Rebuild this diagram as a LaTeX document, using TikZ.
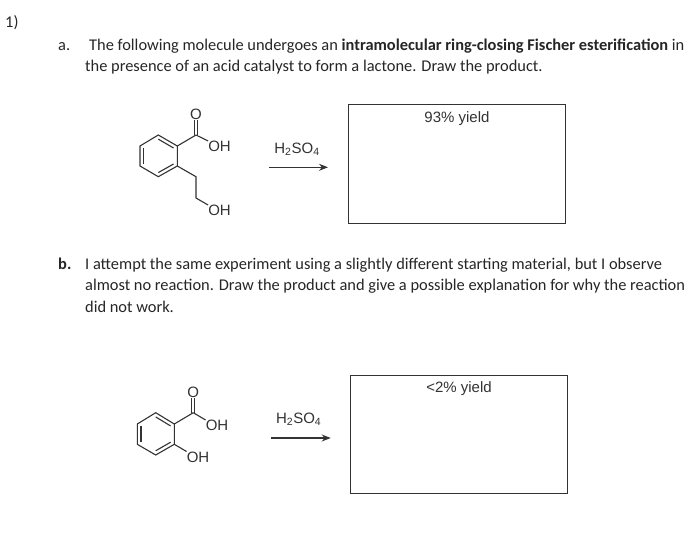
\documentclass[tikz,border=0pt]{standalone}
\usepackage{fontspec}
\setmainfont{Carlito}
\newfontfamily\chemfont{Liberation Sans}
\usetikzlibrary{calc,arrows.meta}
\definecolor{inktext}{HTML}{262626}
\definecolor{inkchem}{HTML}{333333}
\tikzset{
    prose/.style={anchor=base west, inner sep=0pt, text=inktext, font=\fontsize{16.4}{18}\selectfont},
    chem/.style={inner sep=0pt, text=inkchem, font=\chemfont\fontsize{15}{17}\selectfont},
    tag/.style={inner sep=0pt, text=inkchem, font=\chemfont\fontsize{15}{17}\selectfont},
    bond/.style={line width=1.1pt, inkchem},
    yieldbox/.style={draw=inkchem, line width=1pt, fill=white},
    rxnarrow/.style={line width=1.2pt, inkchem, -{Stealth[length=9pt,width=7pt]}},
}
\begin{document}
\begin{tikzpicture}[x=1pt,y=-1pt]
    \useasboundingbox[fill=white] (0,0) rectangle (700,540);

    \node[prose] (qnum) at (5,28) {1)};
    \node[prose] (amark) at (58,51) {a.};
    \node[prose] (aline1) at (89,51) {The following molecule undergoes an \textbf{intramolecular ring-closing Fischer esterification} in};
    \node[prose] (aline2) at (85,72) {the presence of an acid catalyst to form a lactone. Draw the product.};
    \node[prose] (bmark) at (58,269) {\textbf{b.}};
    \node[prose] (bline1) at (85,269) {I attempt the same experiment using a slightly different starting material, but I observe};
    \node[prose] (bline2) at (85,290) {almost no reaction. Draw the product and give a possible explanation for why the reaction};
    \node[prose] (bline3) at (85,312) {did not work.};

    % first molecule
    \coordinate (a1) at (158.3,135);
    \coordinate (a2) at (177.3,146);
    \coordinate (a3) at (177.3,166);
    \coordinate (a4) at (158.3,176.7);
    \coordinate (a5) at (140,166);
    \coordinate (a6) at (140,146);
    \coordinate (amid) at (158.6,156);
    \coordinate (acarb) at (196,135);
    \coordinate (achain1) at (196,176.7);
    \coordinate (achain2) at (196,198);
    \node[chem] (aoxo) at (196,114.3) {O};
    \node[chem] (aoh1) at (219.5,146.5) {OH};
    \node[chem] (aoh2) at (219.5,210.5) {OH};

    \draw[bond] (a1)--(a2)--(a3)--(a4)--(a5)--(a6)--cycle;
    \draw[bond] ($(a1)!0.2!(amid)$)--($(a2)!0.2!(amid)$);
    \draw[bond] ($(a3)!0.2!(amid)$)--($(a4)!0.2!(amid)$);
    \draw[bond] ($(a5)!0.2!(amid)$)--($(a6)!0.2!(amid)$);
    \draw[bond] (a2)--(acarb);
    \draw[bond] ([xshift=-1.5pt]acarb)--([xshift=-1.5pt]acarb|-aoxo.south);
    \draw[bond] ([xshift=1.5pt]acarb)--([xshift=1.5pt]acarb|-aoxo.south);
    \draw[bond] (acarb)--(aoh1.north west);
    \draw[bond] (a3)--(achain1)--(achain2)--(aoh2.north west);

    \node[tag] (areagent) at (297,149.5) {H\textsubscript{2}SO\textsubscript{4}};
    \coordinate (aarrowstart) at (269,167.3);
    \coordinate (aarrowend) at (328,167.3);
    \draw[rxnarrow] (aarrowstart)--(aarrowend);

    \draw[yieldbox] (348,105) rectangle (565,223);
    \node[tag] (ayield) at (457,118.5) {93\% yield};

    % second molecule
    \coordinate (b1) at (155.7,412.7);
    \coordinate (b2) at (174.3,424);
    \coordinate (b3) at (174.3,444.3);
    \coordinate (b4) at (155.7,455);
    \coordinate (b5) at (137.3,444.3);
    \coordinate (b6) at (137.3,424);
    \coordinate (bmid) at (155.8,433.8);
    \coordinate (bcarb) at (193.3,412.7);
    \node[chem] (boxo) at (193.3,392.3) {O};
    \node[chem] (boh1) at (217,425.5) {OH};
    \node[chem] (boh2) at (198,457) {OH};

    \draw[bond] (b1)--(b2)--(b3)--(b4)--(b5)--(b6)--cycle;
    \draw[bond] ($(b1)!0.2!(bmid)$)--($(b2)!0.2!(bmid)$);
    \draw[bond] ($(b3)!0.2!(bmid)$)--($(b4)!0.2!(bmid)$);
    \draw[bond] ($(b5)!0.2!(bmid)$)--($(b6)!0.2!(bmid)$);
    \draw[bond] (b2)--(bcarb);
    \draw[bond] ([xshift=-1.5pt]bcarb)--([xshift=-1.5pt]bcarb|-boxo.south);
    \draw[bond] ([xshift=1.5pt]bcarb)--([xshift=1.5pt]bcarb|-boxo.south);
    \draw[bond] (bcarb)--(boh1.north west);
    \draw[bond] (b3)--(boh2.north west);

    \node[tag] (breagent) at (298.7,419.5) {H\textsubscript{2}SO\textsubscript{4}};
    \coordinate (barrowstart) at (271,438);
    \coordinate (barrowend) at (330.7,438);
    \draw[rxnarrow] (barrowstart)--(barrowend);

    \draw[yieldbox] (350,375) rectangle (567,493);
    \node[tag] (byield) at (459,388.5) {<2\% yield};
\end{tikzpicture}
\end{document}
